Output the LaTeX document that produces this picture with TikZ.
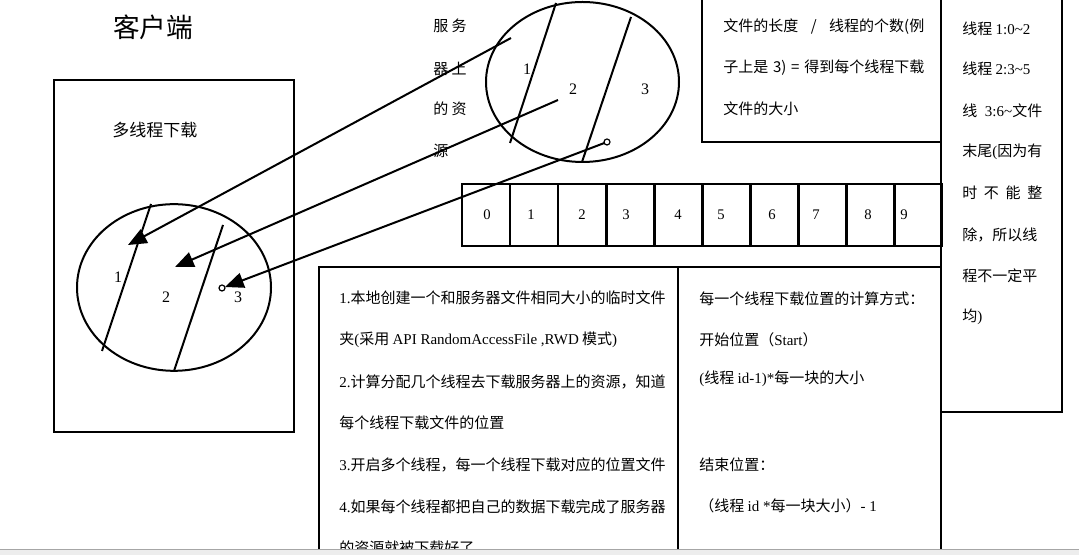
\documentclass[tikz,border=0pt]{standalone}
\usepackage{fontspec}
\setmainfont{Noto Sans CJK SC}
\newfontfamily\en{Liberation Serif}
\usetikzlibrary{shapes.geometric,arrows.meta}
\begin{document}
\begin{tikzpicture}[x=0.75pt,y=-0.75pt,
  txt/.style={anchor=west,inner sep=0,font=\fontsize{11.25pt}{13pt}\selectfont},
  bigtxt/.style={anchor=west,inner sep=0,font=\fontsize{12.75pt}{14pt}\selectfont},
  boxline/.style={line width=1.6pt},
  seg/.style={line width=1.5pt},
  arr/.style={line width=1.5pt,-{Triangle[length=14pt,width=11.5pt]}},
  dot/.style={circle,draw,fill=white,inner sep=0,minimum size=4.5pt,line width=0.9pt},
  num/.style={inner sep=0,font={\en\fontsize{12pt}{14pt}\selectfont}},
  cellnum/.style={inner sep=0,font={\en\fontsize{11pt}{12pt}\selectfont}},
  oval/.style={ellipse,draw,line width=1.5pt,inner sep=0}]
\useasboundingbox (0,0) rectangle (1079,555);

% ---------- client side ----------
\node[anchor=center,inner sep=0,font=\fontsize{20pt}{22pt}\selectfont] (title) at (153,27) {客户端};
\draw[boxline] (54,80) rectangle (294,432);
\node[bigtxt] (mt) at (112,130) {多线程下载};
\node[oval,minimum width=145.5pt,minimum height=125pt] (client) at (174,287.5) {};
\draw[seg] (151,204) -- (102,351);
\draw[seg] (223,225) -- (174,371);
\node[num] (c1l) at (118,277) {1};
\node[num] (c2l) at (166,297) {2};
\node[num] (c3l) at (238,297) {3};

% ---------- server side ----------
\node[txt] (sv1) at (433,26) {\makebox[25pt][s]{服 务}};
\node[txt] (sv2) at (433,69) {\makebox[25pt][s]{器 上}};
\node[txt] (sv3) at (433,109) {\makebox[25pt][s]{的 资}};
\node[txt] (sv4) at (433,151) {源};
\node[oval,minimum width=144.75pt,minimum height=120pt] (server) at (582.5,82) {};
\draw[seg] (556,3) -- (510,143);
\draw[seg] (631,17) -- (582,162);
\node[num] (s1l) at (527,69) {1};
\node[num] (s2l) at (573,89) {2};
\node[num] (s3l) at (645,89) {3};

% ---------- arrows ----------
\coordinate (s1) at (511,38);
\coordinate (c1) at (128,245);
\coordinate (s2) at (558,100);
\coordinate (c2) at (175,267);
\coordinate (s3) at (607,142);
\coordinate (c3) at (225,287);
\draw[arr] (s1) -- (c1);
\draw[arr] (s2) -- (c2);
\draw[arr] (s3) -- (c3);
\node[dot] (d3a) at (s3) {};
\node[dot] (d3b) at (222,288) {};

% ---------- formula box ----------
\draw[boxline] (702,0) -- (702,142) -- (941,142);
\node[txt] (f1) at (723,27) {\makebox[150.75pt][s]{文件的长度 / 线程的个数(例}};
\node[txt] (f2) at (723,68) {\makebox[150.75pt][s]{子上是 3) = 得到每个线程下载}};
\node[txt] (f3) at (723,109) {文件的大小};

% ---------- right column ----------
\draw[boxline] (941,0) -- (941,555);
\draw[boxline] (1062,0) -- (1062,412) -- (941,412);
\node[txt] (r1) at (962,29) {线程 {\en 1:0\char`\~2}};
\node[txt] (r2) at (962,69) {线程 {\en 2:3\char`\~5}};
\node[txt] (r3) at (962,111) {\makebox[60pt][s]{线 {\en 3:6\char`\~}文件}};
\node[txt] (r4) at (962,152) {末尾{\en (}因为有};
\node[txt] (r5) at (962,193) {\makebox[60pt][s]{时 不 能 整}};
\node[txt] (r6) at (962,235) {除，所以线};
\node[txt] (r7) at (962,276) {程不一定平};
\node[txt] (r8) at (962,317) {均{\en )}};

% ---------- array of blocks ----------
\draw[boxline] (462,184) rectangle (942,246);
\foreach \xx in {510,558,606.5,654.5,702.5,750.5,798.5,846.5,894.5}
  \draw[boxline] (\xx,184) -- (\xx,246);
\node[cellnum] (b0) at (487,215) {0};
\node[cellnum] (b1) at (531,215) {1};
\node[cellnum] (b2) at (582,215) {2};
\node[cellnum] (b3) at (626,215) {3};
\node[cellnum] (b4) at (678,215) {4};
\node[cellnum] (b5) at (721,215) {5};
\node[cellnum] (b6) at (772,215) {6};
\node[cellnum] (b7) at (816,215) {7};
\node[cellnum] (b8) at (868,215) {8};
\node[cellnum] (b9) at (904,215) {9};

% ---------- bottom text boxes ----------
\draw[boxline] (319,555) -- (319,267) -- (941,267);
\draw[boxline] (678,267) -- (678,555);
\node[txt] (t1) at (339,298) {{\en 1.}本地创建一个和服务器文件相同大小的临时文件};
\node[txt] (t2) at (339,340) {夹{\en (}采用 {\en API RandomAccessFile ,RWD} 模式{\en )}};
\node[txt] (t3) at (339,382) {{\en 2.}计算分配几个线程去下载服务器上的资源，知道};
\node[txt] (t4) at (339,423) {每个线程下载文件的位置};
\node[txt] (t5) at (339,465) {{\en 3.}开启多个线程，每一个线程下载对应的位置文件};
\node[txt] (t6) at (339,507) {{\en 4.}如果每个线程都把自己的数据下载完成了服务器};
\node[txt] (t7) at (339,548) {的资源就被下载好了};

\node[txt] (u1) at (699,299) {每一个线程下载位置的计算方式：};
\node[txt] (u2) at (699,340) {开始位置（{\en Start}）};
\node[txt] (u3) at (699,379) {{\en (}线程 {\en id-1)*}每一块的大小};
\node[txt] (u4) at (699,465) {结束位置：};
\node[txt] (u5) at (699,506) {（线程 {\en id *}每一块大小）{\en - 1}};

% ---------- bottom strip ----------
\fill[black!7] (0,549) rectangle (1079,555);
\draw[black!35,line width=0.6pt] (0,549) -- (1079,549);
\end{tikzpicture}
\end{document}
